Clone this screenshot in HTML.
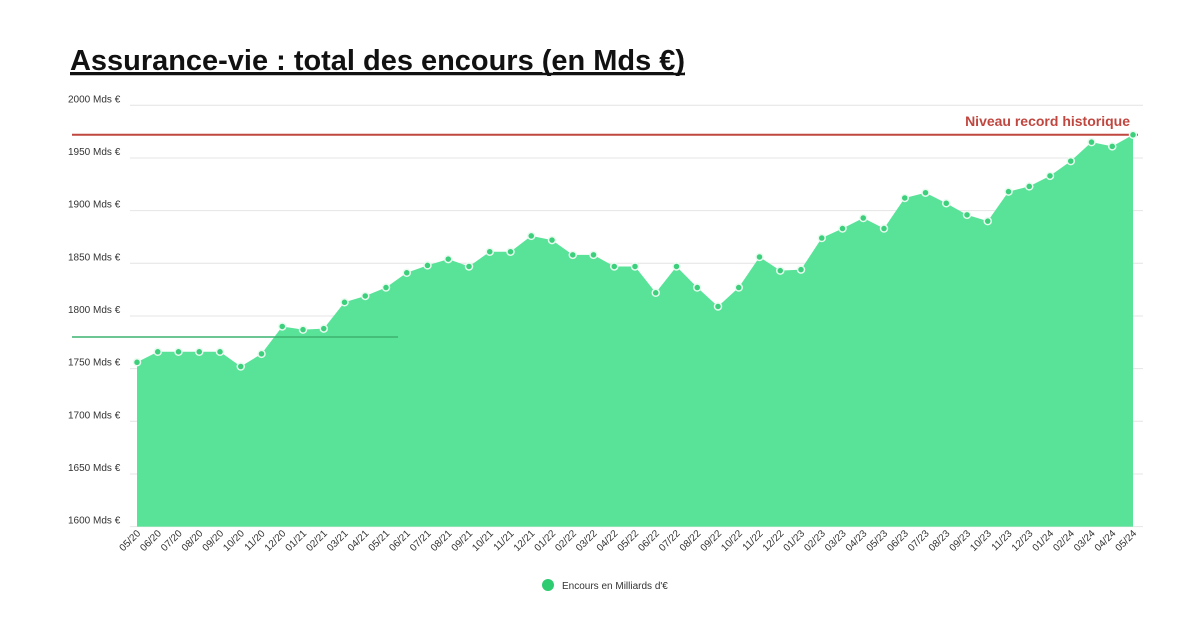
<!DOCTYPE html>
<html><head><meta charset="utf-8"><style>
html,body{margin:0;padding:0;background:#fff;}
svg{display:block;font-family:"Liberation Sans",sans-serif;}
</style></head><body>
<svg id="chart" width="1200" height="630" viewBox="0 0 1200 630">
<text x="70" y="70" font-size="29" font-weight="bold" fill="#111" textLength="615" lengthAdjust="spacingAndGlyphs" text-decoration="underline">Assurance-vie : total des encours (en Mds €)</text>
<line x1="70" y1="74" x2="685" y2="74" stroke="#111" stroke-width="2.5"/>
<g id="grid"></g>
<g id="area"></g>
<g id="refs"></g>
<g id="pts"></g>
<g id="xlabels"></g>
<circle cx="548" cy="585" r="6" fill="#2ecc71"/>
<text x="562" y="589" font-size="10" fill="#333">Encours en Milliards d'€</text>
</svg>
<script>
const categories=["05/20","06/20","07/20","08/20","09/20","10/20","11/20","12/20","01/21","02/21","03/21","04/21","05/21","06/21","07/21","08/21","09/21","10/21","11/21","12/21","01/22","02/22","03/22","04/22","05/22","06/22","07/22","08/22","09/22","10/22","11/22","12/22","01/23","02/23","03/23","04/23","05/23","06/23","07/23","08/23","09/23","10/23","11/23","12/23","01/24","02/24","03/24","04/24","05/24"];
const values=[1756,1766,1766,1766,1766,1752,1764,1790,1787,1788,1813,1819,1827,1841,1848,1854,1847,1861,1861,1876,1872,1858,1858,1847,1847,1822,1847,1827,1809,1827,1856,1843,1844,1874,1883,1893,1883,1912,1917,1907,1896,1890,1918,1923,1933,1947,1965,1961,1972];
const yTicks=[1600,1650,1700,1750,1800,1850,1900,1950,2000];
const recordLevel=1972;
const greenRefLevel=1780;
const NS="http://www.w3.org/2000/svg";
const X0=137,X1=1133,YMIN=1600,YMAX=2000,PY0=526.6,PY1=105.3;
function xs(i){return X0+(X1-X0)*i/(categories.length-1);}
function ys(v){return PY0-(v-YMIN)/(YMAX-YMIN)*(PY0-PY1);}
function mk(tag,attrs,parent){const e=document.createElementNS(NS,tag);for(const k in attrs)e.setAttribute(k,attrs[k]);document.getElementById(parent).appendChild(e);return e;}
yTicks.forEach(t=>{
 const l=mk('line',{x1:130,x2:1143,y1:ys(t),y2:ys(t),stroke:'#e4e4e4','stroke-width':1},'grid');
 
 
 const tx=mk('text',{x:68,y:ys(t)-3,'font-size':10,fill:'#333'},'grid');
 tx.textContent=t+' Mds €';
 
 
});
let d='M'+xs(0)+','+ys(YMIN);
values.forEach((v,i)=>{d+=' L'+xs(i)+','+ys(v);});
d+=' L'+xs(values.length-1)+','+ys(YMIN)+' Z';
const a=mk('path',{d:d,fill:'#58e399'},'area');


const r=mk('line',{x1:72,x2:1138,y1:ys(recordLevel),y2:ys(recordLevel),stroke:'#c0473f','stroke-width':2},'refs');


const rt=mk('text',{x:1130,y:ys(recordLevel)-9,'font-size':14,'font-weight':'bold',fill:'#c0473f','text-anchor':'end'},'refs');
rt.textContent='Niveau record historique';


const g=mk('line',{x1:72,x2:398,y1:ys(greenRefLevel),y2:ys(greenRefLevel),stroke:'#3cb371','stroke-width':1.5},'refs');


values.forEach((v,i)=>{
 const c=mk('circle',{cx:xs(i),cy:ys(v),r:3.5,fill:'#3ccf7c',stroke:'#e8fbef','stroke-width':1.5},'pts');
 
 
});
categories.forEach((c,i)=>{
 const x=xs(i)+4,y=534;
 const t=mk('text',{x:x,y:y,'font-size':10,fill:'#333','text-anchor':'end',transform:'rotate(-45 '+x+' '+y+')'},'xlabels');
 t.textContent=c;
 
 
});
</script>
</body></html>
